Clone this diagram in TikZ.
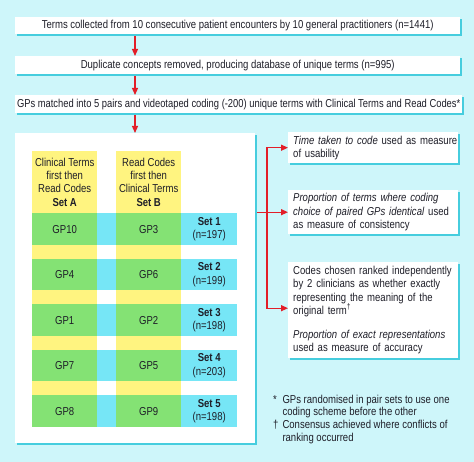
\documentclass[tikz,border=0pt]{standalone}
\usepackage{fontspec}
\setmainfont{Liberation Sans}[FakeStretch=0.83]
\newfontfamily\narrowfont{Liberation Sans}[FakeStretch=0.815]
\usetikzlibrary{arrows.meta,shadows,calc}
\definecolor{bgc}{RGB}{206,246,250}
\definecolor{shc}{RGB}{70,205,222}
\definecolor{yel}{RGB}{255,244,128}
\definecolor{grn}{RGB}{132,226,116}
\definecolor{cyc}{RGB}{118,230,246}
\definecolor{redc}{RGB}{226,30,40}
\definecolor{txt}{RGB}{30,30,40}
\tikzset{
  wbox/.style={draw=none,fill=white,inner sep=0pt,anchor=north west,
    drop shadow={shadow xshift=2pt,shadow yshift=-2pt,fill=shc,opacity=1}},
  rbox/.style={wbox,align=left,inner xsep=5pt,text width=160pt,minimum height=#1},
  cell/.style={inner sep=0pt,anchor=north west,minimum width=65pt,minimum height=#1,align=center},
  redline/.style={draw=redc,line width=1.3pt},
  redarrow/.style={redline,-{Triangle[length=7pt,width=6pt]}},
}
\begin{document}
\begin{tikzpicture}[x=1pt,y=-1pt,font=\fontsize{11.5}{13.3}\selectfont,text=txt]
\useasboundingbox (0,0) rectangle (474,462);
\fill[bgc] (0,0) rectangle (474,462);
% top boxes
\node[wbox,minimum width=445pt,minimum height=17pt] (box1) at (15,17)
  {Terms collected from 10 consecutive patient encounters by 10 general practitioners (n=1441)};
\node[wbox,minimum width=445pt,minimum height=18pt] (box2) at (15,56)
  {Duplicate concepts removed, producing database of unique terms (n=995)};
\node[wbox,minimum width=447pt,minimum height=18pt,font=\narrowfont\fontsize{11.5}{13.3}\selectfont] (box3) at (15,95)
  {GPs matched into 5 pairs and videotaped coding (-200) unique terms with Clinical Terms and Read Codes*};
% panel
\node[wbox,minimum width=240pt,minimum height=310pt] (panel) at (15,133) {};
\coordinate (ax) at (135,0);
\draw[redarrow] ([yshift=-2pt]box1.south -| ax) -- (box2.north -| ax);
\draw[redarrow] ([yshift=-2pt]box2.south -| ax) -- (box3.north -| ax);
\draw[redarrow] ([yshift=-2pt]box3.south -| ax) -- (panel.north -| ax);
% columns
\fill[yel] (32,151) rectangle (97,427);
\fill[yel] (116,151) rectangle (181,427);
\node[cell=62pt] (hA) at (32,151) {Clinical Terms\\first then\\Read Codes\\\textbf{Set A}};
\node[cell=62pt] (hB) at (116,151) {Read Codes\\first then\\Clinical Terms\\\textbf{Set B}};
\foreach \y/\h/\a/\b/\s/\n in {213/32/GP10/GP3/1/197, 259/31/GP4/GP6/2/199, 304/32/GP1/GP2/3/198, 350/31/GP7/GP5/4/203, 395/32/GP8/GP9/5/198}{
  \fill[cyc] (97,\y) rectangle (116,\y+\h);
  \node[cell=\h pt,fill=grn] (gA\s) at (32,\y) {\a};
  \node[cell=\h pt,fill=grn] (gB\s) at (116,\y) {\b};
  \node[cell=\h pt,fill=cyc,minimum width=56pt] (set\s) at (181,\y) {\textbf{Set \s}\\(n=\n)};
}
% right boxes
\node[rbox=31pt] (R1) at (288,132)
  {\mbox{\textit{Time taken to code} used as measure}\\of usability};
\node[rbox=44pt] (R2) at (288,190)
  {\mbox{\textit{Proportion of terms where coding}}\\\mbox{\textit{choice of paired GPs identical} used}\\as measure of consistency};
\node[rbox=96pt] (R3) at (288,262)
  {\mbox{Codes chosen ranked independently}\\\mbox{by 2 clinicians as whether exactly}\\\mbox{representing the meaning of the}\\original term\textsuperscript{†}\\[11pt]\mbox{\textit{Proportion of exact representations}}\\used as measure of accuracy};
\coordinate (jn) at (267,0);
\draw[redarrow] ([xshift=2pt]panel.east |- R2.west) -- (R2.west);
\draw[redline] (jn |- R1.west) -- ([yshift=2pt]jn |- R3.west);
\draw[redarrow] ([xshift=-0.65pt]jn |- R1.west) -- (R1.west);
\draw[redarrow] ([xshift=-0.65pt,yshift=2pt]jn |- R3.west) -- ([yshift=2pt]R3.west);
% notes
\node[anchor=north west,inner sep=0pt,font=\fontsize{11.5}{12.7}\selectfont] (notes) at (273,394)
  {\begin{tabular}{@{}l@{\hspace{4pt}}l@{}}
  * & GPs randomised in pair sets to use one\\
    & coding scheme before the other\\
  † & Consensus achieved where conflicts of\\
    & ranking occurred
  \end{tabular}};
\end{tikzpicture}
\end{document}
